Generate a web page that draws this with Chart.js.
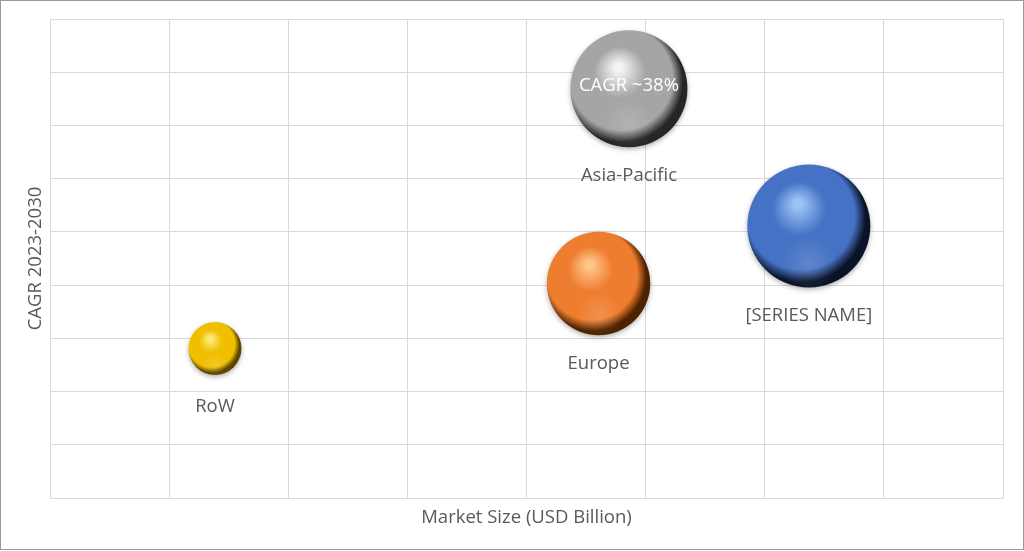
<!DOCTYPE html>
<html>
<head>
<meta charset="utf-8">
<script src="https://cdn.jsdelivr.net/npm/chart.js@4.4.0/dist/chart.umd.min.js"></script>
<style>
  html, body { margin: 0; padding: 0; background: #fff; }
  #wrap { width: 1022px; height: 548px; border: 1px solid #9a9a9a; position: relative; }
  canvas { display: block; }
</style>
</head>
<body>
<div id="wrap"><canvas id="myChart" width="1022" height="548"></canvas></div>
<script>
// regions and their values
const regions = ['RoW', 'Europe', 'Asia-Pacific', '[SERIES NAME]'];
const marketSize = [1.385, 4.605, 4.86, 6.37];
const cagr = [2.81, 4.03, 7.69, 5.11];
const bubbleSize = [26.5, 51.7, 58.5, 61.5];
const innerLabels = ['', '', 'CAGR ~38%', ''];

// sphere colours: highlight, base, dark rim
const palette = [
    ['#ffe97a', '#f0bf00', '#5e4500'],
    ['#ffc58a', '#ee7d2f', '#4f2200'],
    ['#f4f4f4', '#a5a5a5', '#262626'],
    ['#9cc3f5', '#4572c4', '#0a1428']
];

const labelFont = '18.5px "Open Sans", sans-serif';

function sphereFill(context) {
    const chart = context.chart;
    const i = context.dataIndex;
    if (!chart.chartArea || i === undefined) return palette[0][1];
    const x = chart.scales.x.getPixelForValue(marketSize[i]);
    const y = chart.scales.y.getPixelForValue(cagr[i]);
    const r = bubbleSize[i];
    const c = palette[i];
    const g = chart.ctx.createRadialGradient(x - r * 0.18, y - r * 0.38, 0, x - r * 0.12, y - r * 0.12, r * 1.1);
    g.addColorStop(0, c[0]);
    g.addColorStop(0.06, c[0]);
    g.addColorStop(0.4, c[1]);
    g.addColorStop(0.8, c[1]);
    g.addColorStop(0.95, c[2]);
    g.addColorStop(1, c[2]);
    return g;
}

const shadowPlugin = {
    id: 'shadow',
    beforeDatasetDraw(chart) {
        const ctx = chart.ctx;
        ctx.save();
        ctx.shadowColor = 'rgba(0,0,0,0.3)';
        ctx.shadowBlur = 5;
        ctx.shadowOffsetY = 2;
    },
    afterDatasetDraw(chart) {
        chart.ctx.restore();
    }
};

const labelPlugin = {
    id: 'bubbleLabels',
    afterDatasetsDraw(chart) {
        const ctx = chart.ctx;
        const meta = chart.getDatasetMeta(0);
        ctx.save();
        ctx.font = labelFont;
        ctx.textAlign = 'center';
        ctx.textBaseline = 'middle';
        meta.data.forEach((el, i) => {
            const r = bubbleSize[i];
            // soft reflected light on the lower rim
            const g = ctx.createRadialGradient(el.x, el.y + r * 0.6, 0, el.x, el.y + r * 0.6, r * 0.45);
            g.addColorStop(0, 'rgba(255,255,255,0.14)');
            g.addColorStop(1, 'rgba(255,255,255,0)');
            ctx.fillStyle = g;
            ctx.beginPath();
            ctx.arc(el.x, el.y, r, 0, Math.PI * 2);
            ctx.fill();

            ctx.fillStyle = '#595959';
            ctx.fillText(regions[i], el.x, el.y + r + 28 + 4 * (1 - r / 60) * 1.6);
            if (innerLabels[i]) {
                ctx.fillStyle = '#ffffff';
                ctx.fillText(innerLabels[i], el.x, el.y - 3);
            }
        });
        ctx.restore();
    }
};

const ctx = document.getElementById('myChart').getContext('2d');
const chart = new Chart(ctx, {
    type: 'bubble',
    data: {
        datasets: [{
            label: 'Regions',
            data: regions.map((name, i) => ({ x: marketSize[i], y: cagr[i], r: bubbleSize[i] })),
            backgroundColor: sphereFill,
            borderWidth: 0,
            hoverRadius: 0,
            clip: false
        }]
    },
    options: {
        responsive: false,
        animation: false,
        events: [],
        layout: {
            autoPadding: false,
            padding: { left: 0, top: 18, right: 20, bottom: 0 }
        },
        scales: {
            x: {
                type: 'linear',
                min: 0,
                max: 8,
                ticks: { display: false, stepSize: 1 },
                grid: { color: '#d9d9d9', drawTicks: false },
                border: { color: '#d9d9d9' },
                title: {
                    display: true,
                    text: 'Market Size (USD Billion)',
                    color: '#595959',
                    font: { family: '"Open Sans", sans-serif', size: 18.5 },
                    padding: { top: 0, bottom: 20 }
                },
                afterFit(scale) { scale.height = 51; }
            },
            y: {
                type: 'linear',
                min: 0,
                max: 9,
                ticks: { display: false, stepSize: 1 },
                grid: { color: '#d9d9d9', drawTicks: false },
                border: { color: '#d9d9d9' },
                title: {
                    display: true,
                    text: 'CAGR 2023-2030',
                    color: '#595959',
                    font: { family: '"Open Sans", sans-serif', size: 18.5 },
                    padding: { top: 24 }
                },
                afterFit(scale) { scale.width = 49; }
            }
        },
        plugins: {
            legend: { display: false },
            tooltip: { enabled: false }
        }
    },
    plugins: [shadowPlugin, labelPlugin]
});
</script>
</body>
</html>
